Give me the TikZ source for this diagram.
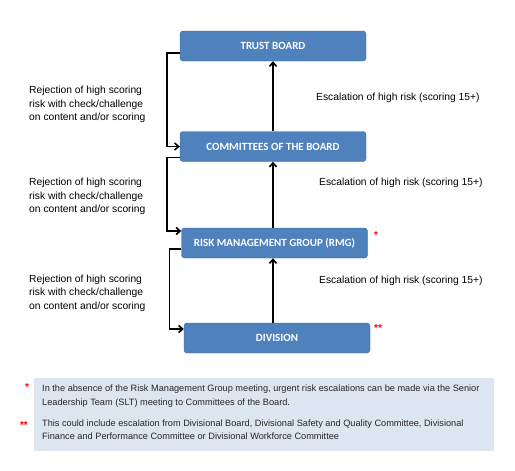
\documentclass[tikz,border=0pt]{standalone}
\usepackage{fontspec}
\setmainfont{Liberation Sans}
\newfontfamily\boxfont{Carlito}
\usetikzlibrary{positioning,arrows.meta}
\definecolor{boxblue}{HTML}{4F81BD}
\definecolor{boxedge}{HTML}{3A6A9E}
\definecolor{notefill}{HTML}{DCE6F1}
\definecolor{starred}{HTML}{FF0000}

\begin{document}
\begin{tikzpicture}[
        x=1pt, y=-1pt,
        >={Straight Barb[length=4pt,width=7pt]},
        box/.style={draw=boxedge, fill=boxblue, rounded corners=3pt, minimum width=186pt,
            minimum height=30pt, text=white, font=\boxfont\bfseries\fontsize{11}{12}\selectfont},
        lbl/.style={font=\fontsize{10.3}{13.5}\selectfont, align=left, inner sep=0pt, anchor=west},
        note/.style={font=\fontsize{9.2}{13.5}\selectfont, align=left, inner sep=0pt, anchor=west, text=black!85},
        star/.style={text=starred, font=\bfseries\fontsize{10}{10}\selectfont, inner sep=0pt},
        link/.style={->, line width=1.6pt}
    ]
        \useasboundingbox (0,0) rectangle (515,471);

        \node[box] (trust) at (273,46)    {TRUST BOARD};
        \node[box] (comm)  at (273,146.5) {COMMITTEES OF THE BOARD};
        \node[box] (rmg)   at (274.5,243) {RISK MANAGEMENT GROUP (RMG)};
        \node[box] (div)   at (277,338)   {DIVISION};

        % escalation upwards
        \draw[link] (comm.north) -- (trust.south);
        \draw[link] (rmg.north -| trust.south) -- (comm.south -| trust.south);
        \draw[link] (div.north -| trust.south) -- (rmg.south -| trust.south);

        \node[lbl] (esc1) at (316,98)  {Escalation of high risk (scoring 15+)};
        \node[lbl] (esc2) at (319,183) {Escalation of high risk (scoring 15+)};
        \node[lbl] (esc3) at (319,281) {Escalation of high risk (scoring 15+)};

        % rejection back down
        \draw[link] ([yshift=-7pt]trust.west) -- ++(-13,0) |- (comm.west);
        \draw[link] ([yshift=-11pt]comm.west) -- ++(-13,0) |- ([yshift=12pt]rmg.west);
        \draw[link] ([yshift=-6pt]rmg.west) -- ++(-12,0) |- ([yshift=9pt]div.west);

        \node[lbl] (rej1) at (29,104.5) {Rejection of high scoring\\risk with check/challenge\\on content and/or scoring};
        \node[lbl] (rej2) at (29,196.5) {Rejection of high scoring\\risk with check/challenge\\on content and/or scoring};
        \node[lbl] (rej3) at (29,293)   {Rejection of high scoring\\risk with check/challenge\\on content and/or scoring};

        \node[star] (rmgstar) at (376,235) {*};
        \node[star] (divstar) at (378,328) {**};

        % footnotes
        \fill[notefill] (34,378) rectangle (494,451);
        \node[note] (note1) at (42,396)   {In the absence of the Risk Management Group meeting, urgent risk escalations can be made via the Senior\\Leadership Team (SLT) meeting to Committees of the Board.};
        \node[note] (note2) at (42,429.5) {This could include escalation from Divisional Board, Divisional Safety and Quality Committee, Divisional\\Finance and Performance Committee or Divisional Workforce Committee};
        \node[star] (star1) at (27,387) {*};
        \node[star] (star2) at (24,425) {**};
    \end{tikzpicture}
\end{document}
